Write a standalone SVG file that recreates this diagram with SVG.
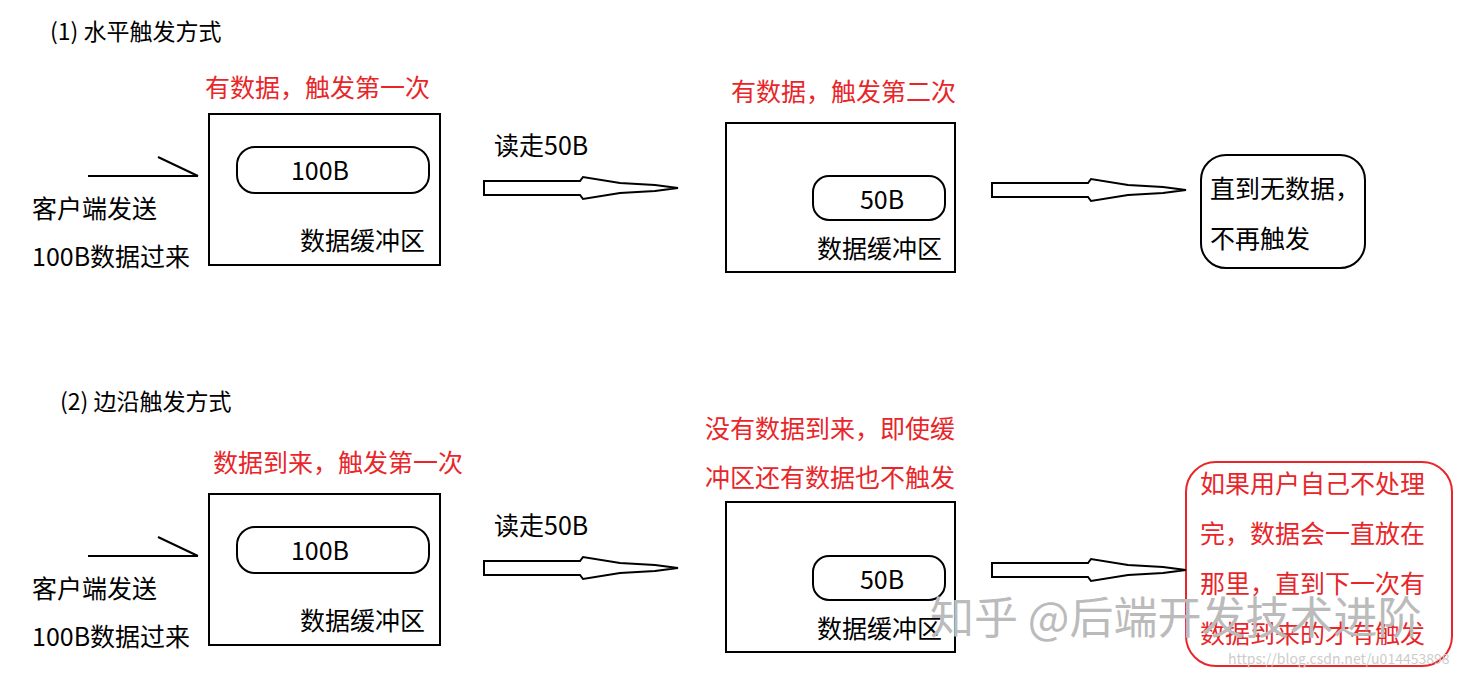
<svg xmlns="http://www.w3.org/2000/svg" width="1473" height="678" viewBox="0 0 1473 678">
<style>
text{font-family:"Noto Sans CJK SC","Liberation Sans",sans-serif;font-size:25px;fill:#000}
.r{fill:#e8262a}
.b{fill:#fff;stroke:#000;stroke-width:2}
.rb{fill:#fff;stroke:#e8262a;stroke-width:2}
.l{stroke:#000;stroke-width:2;fill:none}
.wm{fill:#bbb;font-size:44px}
.url{fill:#ccc;font-size:14px}
</style>
<defs>
<polygon id="ba" class="b" points="0,-7 96,-7 99,-11 136,-5 171,-3 194,0 171,3 136,5 99,11 96,7 0,7"/>
</defs>
<rect width="1473" height="678" fill="#fff"/>
<text x="50" y="40" style="font-size:23px">(1) 水平触发方式</text>
<text x="60" y="410" style="font-size:23px">(2) 边沿触发方式</text>
<g id="n1a">
<text class="r" x="205" y="97">有数据，触发第一次</text>
<rect class="b" x="209" y="114" width="231" height="151"/>
<rect class="b" x="237" y="147" width="192" height="46" rx="18"/>
<text x="320" y="180" text-anchor="middle">100B</text>
<text x="300" y="250">数据缓冲区</text>
</g>
<g id="n1src"><text x="32" y="218">客户端发送</text><text x="32" y="266">100B数据过来</text></g>
<g id="n1b">
<text class="r" x="731" y="101">有数据，触发第二次</text>
<rect class="b" x="726" y="123" width="229" height="149"/>
<rect class="b" x="813" y="176" width="132" height="44" rx="16"/>
<text x="882" y="209" text-anchor="middle">50B</text>
<text x="817" y="258">数据缓冲区</text>
</g>
<g id="n1c">
<rect class="b" x="1201" y="155" width="164" height="113" rx="25"/>
<text x="1210" y="198">直到无数据，</text><text x="1210" y="248">不再触发</text>
</g>
<g id="n2a">
<text class="r" x="213" y="472">数据到来，触发第一次</text>
<rect class="b" x="209" y="494" width="231" height="151"/>
<rect class="b" x="237" y="527" width="192" height="46" rx="18"/>
<text x="320" y="560" text-anchor="middle">100B</text>
<text x="300" y="630">数据缓冲区</text>
</g>
<g id="n2src"><text x="32" y="598">客户端发送</text><text x="32" y="646">100B数据过来</text></g>
<g id="n2b">
<text class="r" x="705" y="438">没有数据到来，即使缓</text>
<text class="r" x="705" y="487">冲区还有数据也不触发</text>
<rect class="b" x="726" y="502" width="229" height="150"/>
<rect class="b" x="813" y="556" width="132" height="44" rx="16"/>
<text x="882" y="589" text-anchor="middle">50B</text>
<text x="817" y="638">数据缓冲区</text>
</g>
<g id="n2c">
<rect class="rb" x="1186" y="462" width="266" height="204" rx="30"/>
<text class="r" x="1200" y="493">如果用户自己不处理</text>
<text class="r" x="1200" y="543">完，数据会一直放在</text>
<text class="r" x="1200" y="593">那里，直到下一次有</text>
<text class="r" x="1200" y="643">数据到来的才有触发</text>
</g>
<g id="connectors">
<path class="l" d="M88,176H198M158,157L198,176"/>
<path class="l" d="M88,556H198M158,537L198,556"/>
<use href="#ba" x="484" y="188"/>
<use href="#ba" x="992" y="190"/>
<use href="#ba" x="484" y="568"/>
<use href="#ba" x="992" y="570"/>
<text x="494" y="155">读走50B</text>
<text x="494" y="535">读走50B</text>
</g>
<text class="wm" x="930" y="634">知乎 @后端开发技术进阶</text>
<text class="url" x="1228" y="664">https://blog.csdn.net/u014453898</text>
</svg>
